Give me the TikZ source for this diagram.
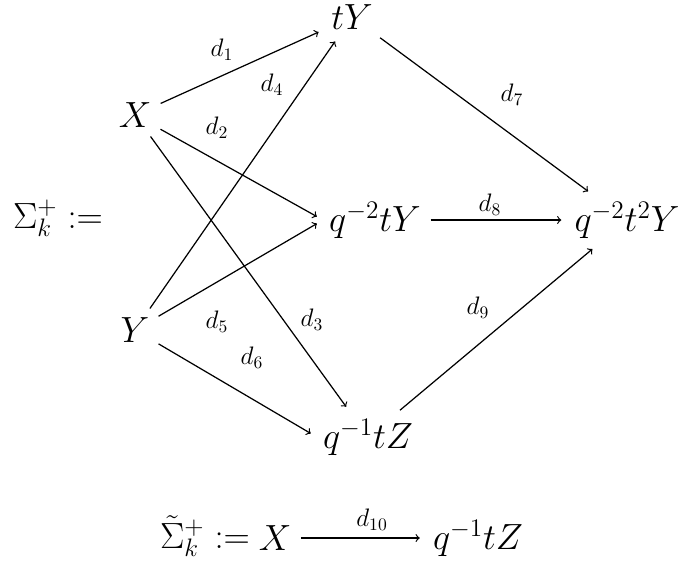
\documentclass[tikz,border=0pt]{standalone}
\begin{document}
\begin{tikzpicture}[x=0.02cm,y=-0.02cm,
  every node/.style={font=\fontsize{21}{25}\selectfont},
  lab/.style={font=\fontsize{14}{16}\selectfont},
  arr/.style={->,line width=0.7pt,shorten <=2pt,shorten >=4pt}]
\useasboundingbox (0,0) rectangle (685,562);
\node (S) at (58,218) {$\Sigma_k^+ :=$};
\node (tY) at (352,17) {$tY$};
\node (X) at (135,115) {$X$};
\node (Y) at (135,330) {$Y$};
\node (A) at (375,220) {$q^{-2}tY$};
\node (B) at (627,220) {$q^{-2}t^2Y$};
\node (C) at (368,437) {$q^{-1}tZ$};
\node (S2) at (205,536) {$\tilde\Sigma_k^+ :=$};
\node (X2) at (275,538) {$X$};
\node (C2) at (478,538) {$q^{-1}tZ$};
\draw[arr] (X) -- (tY);
\draw[arr] (X) -- (A.west);
\draw[arr] (X) -- (C);
\draw[arr] (Y) -- (tY);
\draw[arr] (Y) -- (A.west);
\draw[arr] (Y) -- (C.west);
\draw[arr] (tY) -- (B);
\draw[arr] (A) -- (B);
\draw[arr] (C) -- (B);
\draw[arr] (X2) -- (C2);
\node[lab] at (222,50) {$d_1$};
\node[lab] at (272,85) {$d_4$};
\node[lab] at (217,128) {$d_2$};
\node[lab] at (512,95) {$d_7$};
\node[lab] at (490,205) {$d_8$};
\node[lab] at (478,308) {$d_9$};
\node[lab] at (217,322) {$d_5$};
\node[lab] at (312,320) {$d_3$};
\node[lab] at (252,358) {$d_6$};
\node[lab] at (372,520) {$d_{10}$};
\end{tikzpicture}
\end{document}
